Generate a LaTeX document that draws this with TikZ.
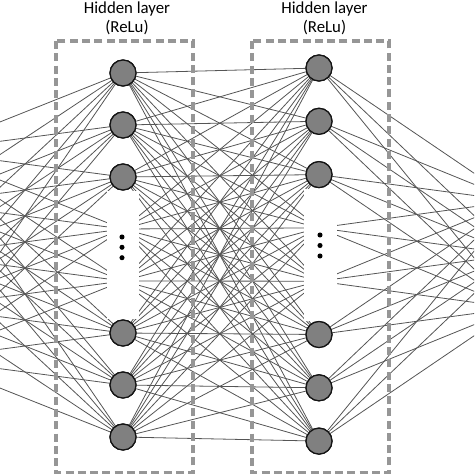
\documentclass[tikz,border=0pt]{standalone}
\usepackage{fontspec}
\setmainfont{Carlito}
\usepackage{tikz}

\tikzset{
  neuron/.style={circle,draw={rgb, 255:red, 20; green, 20; blue, 20},line width=0.95pt,fill={rgb, 255:red, 128; green, 128; blue, 128},minimum size=19.5pt,inner sep=0pt},
  edge/.style={draw={rgb, 255:red, 85; green, 85; blue, 85},line width=0.6pt},
  layerbox/.style={draw={rgb, 255:red, 150; green, 150; blue, 150},line width=2.5pt,dash pattern=on 6pt off 3.2pt},
  gapdot/.style={circle,fill=black,minimum size=3.8pt,inner sep=0pt},
  title/.style={anchor=north,inner sep=0pt,align=center,font=\fontsize{12.6}{14.3}\selectfont}
}

\begin{document}
\begin{tikzpicture}[x=0.75pt,y=0.75pt,yscale=-1,xscale=1]
\useasboundingbox (0,0) rectangle (474,474);
\clip (0,0) rectangle (474,474);

% Input layer (off the page)
\coordinate (in1) at (-73,151);
\coordinate (in2) at (-73,203);
\coordinate (in3) at (-73,255);
\coordinate (in4) at (-73,307);
\coordinate (in5) at (-73,359);
% Output layer (off the page)
\coordinate (out1) at (515,201);
\coordinate (out2) at (515,254.5);
\coordinate (out3) at (515,308);

% Hidden layer 1
\node [neuron] (a1) at (123,73) {};
\node [neuron] (a2) at (123,125) {};
\node [neuron] (a3) at (123,177) {};
\coordinate (a4) at (123,229);
\coordinate (a5) at (123,281);
\node [neuron] (a6) at (123,333) {};
\node [neuron] (a7) at (123,385) {};
\node [neuron] (a8) at (123,437) {};
% Hidden layer 2
\node [neuron] (b1) at (319,68) {};
\node [neuron] (b2) at (319,121.3) {};
\node [neuron] (b3) at (319,174.6) {};
\coordinate (b4) at (319,227.9);
\coordinate (b5) at (319,281.2);
\node [neuron] (b6) at (319,334.5) {};
\node [neuron] (b7) at (319,387.8) {};
\node [neuron] (b8) at (319,441.1) {};

% Connections
\foreach \i in {1,...,8}{
  \foreach \j in {1,...,5} \draw [edge] (a\i.center) -- (in\j);
  \foreach \j in {1,...,8} \draw [edge] (a\i.center) -- (b\j.center);
  \foreach \j in {1,...,3} \draw [edge] (b\i.center) -- (out\j);
}

% Gaps for the omitted units
\fill [white] (107,191) rectangle (139,319);
\fill [white] (304,189) rectangle (337,321);
\node [gapdot] (da1) at (122,237) {};
\node [gapdot] (da2) at (122,247.3) {};
\node [gapdot] (da3) at (122,257.7) {};
\node [gapdot] (db1) at (320,235) {};
\node [gapdot] (db2) at (320,245.5) {};
\node [gapdot] (db3) at (320,256) {};

% Dashed boxes
\draw [layerbox] (56,41) rectangle (193,473);
\draw [layerbox] (252,41) rectangle (389,473);

% Redraw the units on top
\foreach \n in {a1,a2,a3,a6,a7,a8,b1,b2,b3,b6,b7,b8}
  \node [neuron] at (\n) {};

% Text Node
\node [title] (t1) at (127,2) {Hidden layer\\(ReLu)};
% Text Node
\node [title] (t2) at (324.5,2) {Hidden layer\\(ReLu)};

\end{tikzpicture}
\end{document}
